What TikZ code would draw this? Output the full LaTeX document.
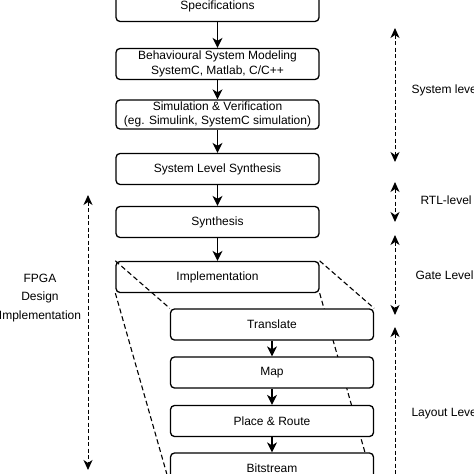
\documentclass[tikz,border=0pt]{standalone}
\usepackage{fontspec}
\setmainfont{Liberation Sans}
\usetikzlibrary{arrows.meta}
\pgfdeclarelayer{back}
\pgfsetlayers{back,main}

\tikzset{
  stagebox/.style={draw, rounded corners=4pt, line width=1.3pt, minimum width=203pt,
    minimum height=31pt, inner sep=0pt, align=center, font=\fontsize{12}{14.5}\selectfont},
  flow/.style={line width=1.3pt, -{Stealth[length=10pt,width=10pt,inset=3pt]}},
  levelarrow/.style={line width=1pt, dash pattern=on 4pt off 2.5pt,
    {Stealth[length=10pt,width=9pt,inset=3pt]}-{Stealth[length=10pt,width=9pt,inset=3pt]}},
  fanline/.style={line width=1.1pt, dash pattern=on 5pt off 3pt},
  leveltext/.style={anchor=west, font=\fontsize{12}{14.5}\selectfont}
}

\begin{document}
\begin{tikzpicture}[x=1pt,y=-1pt]
\useasboundingbox (0,0) rectangle (474,474);
\clip (0,0) rectangle (474,474);

\node[stagebox] (spec) at (217.5,6) {Specifications};
\node[stagebox] (model) at (217.5,64) {Behavioural System Modeling\\SystemC, Matlab, C/C++};
\node[stagebox, minimum height=29pt] (sim) at (217.5,114.5) {Simulation \& Verification\\(eg. Simulink, SystemC simulation)};
\node[stagebox] (sls) at (217.5,169) {System Level Synthesis};
\node[stagebox] (syn) at (217.5,222) {Synthesis};
\node[stagebox] (impl) at (217.5,277) {Implementation};

\draw[flow] (spec.south) -- (model.north);
\draw[flow] (model.south) -- (sim.north);
\draw[flow] (sim.south) -- (sls.north);
\draw[flow] (sls.south) -- (syn.north);
\draw[flow] (syn.south) -- (impl.north);

\node[stagebox, fill=white] (trans) at (272,324.5) {Translate};
\node[stagebox, fill=white] (map) at (272,372.5) {Map};
\node[stagebox, fill=white] (par) at (272,421) {Place \& Route};
\node[stagebox, fill=white] (bit) at (272,468.5) {Bitstream};

\draw[flow] (trans.south) -- (map.north);
\draw[flow] (map.south) -- (par.north);
\draw[flow] (par.south) -- (bit.north);

\begin{pgfonlayer}{back}
\draw[fanline] (impl.north west) -- (trans.north west);
\draw[fanline] (impl.north east) -- (trans.north east);
\draw[fanline] (impl.south west) -- (bit.south west);
\draw[fanline] (impl.south east) -- (bit.south east);
\end{pgfonlayer}

\coordinate (sys-top) at (395,28);
\coordinate (sys-bot) at (395,162);
\coordinate (rtl-top) at (395,182);
\coordinate (rtl-bot) at (395,222);
\coordinate (gate-top) at (395,235);
\coordinate (gate-bot) at (395,315);
\coordinate (lay-top) at (395,327);
\coordinate (lay-bot) at (395,500);
\coordinate (fpga-top) at (88,195);
\coordinate (fpga-bot) at (88,470);

\draw[levelarrow] (sys-top) -- (sys-bot);
\draw[levelarrow] (rtl-top) -- (rtl-bot);
\draw[levelarrow] (gate-top) -- (gate-bot);
\draw[levelarrow] (lay-top) -- (lay-bot);
\draw[levelarrow] (fpga-top) -- (fpga-bot);

\node[leveltext] (sys) at (408,90) {System level};
\node[leveltext] (rtl) at (417,200) {RTL-level};
\node[leveltext] (gate) at (412,275) {Gate Level};
\node[leveltext] (lay) at (408,413) {Layout Level};
\node[align=center, font=\fontsize{12}{18.5}\selectfont] (fpga) at (40,298) {FPGA\\Design\\Implementation};

\end{tikzpicture}
\end{document}
